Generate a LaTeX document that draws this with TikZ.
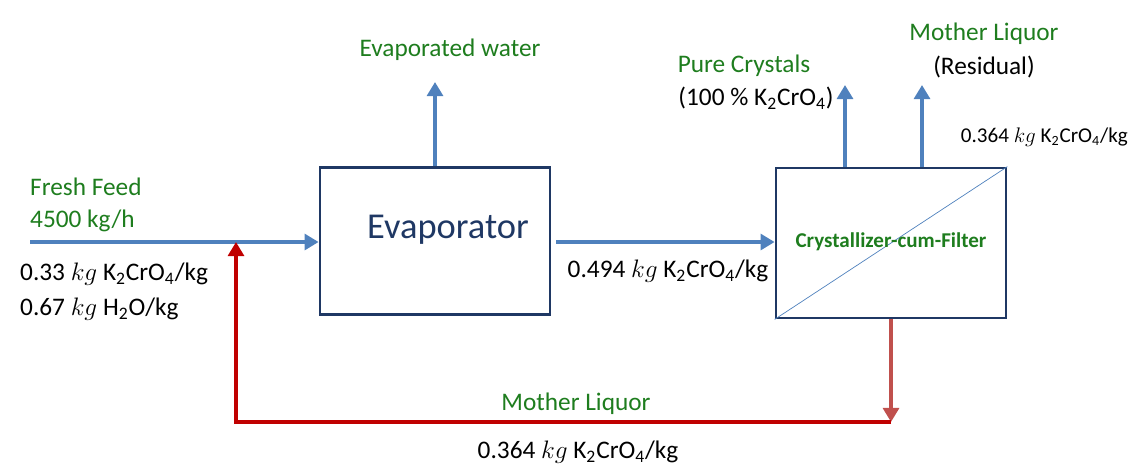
\documentclass[tikz,border=0pt]{standalone}
\usepackage{fontspec}
\setmainfont{Carlito}
\usetikzlibrary{arrows.meta}
\definecolor{flowblue}{RGB}{79,129,189}
\definecolor{labgreen}{RGB}{30,125,30}
\definecolor{boxnavy}{RGB}{31,56,100}
\definecolor{recred}{RGB}{192,0,0}
\definecolor{downred}{RGB}{192,80,77}
\newcommand{\sub}[1]{\textsubscript{#1}}
\tikzset{
  unit/.style={draw=boxnavy, line width=1.6pt, minimum width=4.6cm, minimum height=2.95cm},
  flow/.style={flowblue, line width=2.4pt, -{Triangle[length=8pt,width=9pt]}},
  glab/.style={text=labgreen, font=\Large},
  comp/.style={font=\Large}
}
\begin{document}
\begin{tikzpicture}[x=0.02cm,y=-0.02cm]
\useasboundingbox (0,0) rectangle (1138,468);
% units
\node [unit] (evap) at (435,241) {};
\node [font=\huge, text=boxnavy] at (448,230) {Evaporator};
\node [unit, minimum height=3cm] (cryst) at (891,243) {};
\draw [flowblue, thin] (cryst.south west) -- (cryst.north east);
\node [text=labgreen, font=\large\bfseries] at (891,242) {Crystallizer-cum-Filter};
% streams
\coordinate (feed) at (30,242);
\coordinate (mix) at (236,242);
\coordinate (vap) at (435,82);
\coordinate (pure) at (845,85);
\coordinate (res) at (922,85);
\coordinate (ml) at (891,422);
\coordinate (corner) at (236,422);
\draw [flow] (feed) -- (evap.west |- feed);
\draw [flow] (evap.east |- feed) ++(5,0) -- (cryst.west |- feed);
\draw [flow] (evap.north) -- (vap);
\draw [flow] (cryst.north -| pure) -- (pure);
\draw [flow] (cryst.north -| res) -- (res);
\draw [downred, line width=2.4pt, -{Triangle[length=8pt,width=9pt]}] (cryst.south) -- (ml);
\draw [recred, line width=2.4pt, -{Triangle[length=8pt,width=9pt]}] (ml) -- (corner) -- (mix);
% labels
\node [glab, anchor=west, align=left] at (24,205) {Fresh Feed\\4500 kg/h};
\node [comp, anchor=west, align=left] at (14,292) {0.33 $kg$ K\sub{2}CrO\sub{4}/kg\\[2pt]0.67 $kg$ H\sub{2}O/kg};
\node [glab] at (450,50) {Evaporated water};
\node [comp] at (668,271) {0.494 $kg$ K\sub{2}CrO\sub{4}/kg};
\node [glab] at (744,66) {Pure Crystals};
\node [comp] at (756,98) {(100 \% K\sub{2}CrO\sub{4})};
\node [glab] at (984,34) {Mother Liquor};
\node [comp] at (984,67) {(Residual)};
\node [font=\large, anchor=east] at (1134,137) {0.364 $kg$ K\sub{2}CrO\sub{4}/kg};
\node [glab] at (576,404) {Mother Liquor};
\node [comp] at (578,452) {0.364 $kg$ K\sub{2}CrO\sub{4}/kg};
\end{tikzpicture}
\end{document}
